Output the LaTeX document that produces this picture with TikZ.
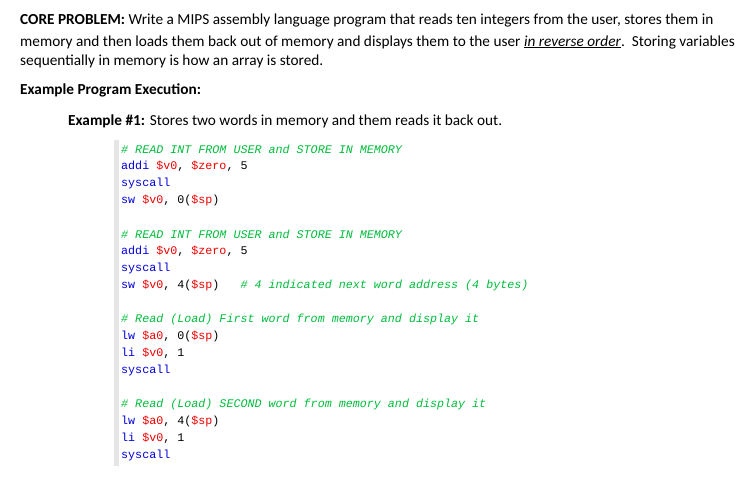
\documentclass[tikz,border=0pt]{standalone}
\usepackage{fontspec}
\setmainfont{Carlito}
\newfontfamily\codefont{Liberation Mono}
\definecolor{cgreen}{RGB}{0,190,60}
\definecolor{cblue}{RGB}{0,0,220}
\definecolor{cred}{RGB}{240,0,0}
\begin{document}
\begin{tikzpicture}[x=1pt,y=-1pt,
  txt/.style={anchor=west,inner sep=0pt,font=\fontsize{15.3}{18}\selectfont},
  code/.style={anchor=west,inner sep=0pt,font=\codefont\fontsize{11.7}{13}\selectfont},
  comm/.style={code,text=cgreen,font=\codefont\itshape\fontsize{11.7}{13}\selectfont}]
\useasboundingbox[fill=white] (0,0) rectangle (743,483);
\fill[gray!20] (114,140) rectangle (119,466);
\node[txt] (l1) at (20,20) {\textbf{CORE PROBLEM:} Write a MIPS assembly language program that reads ten integers from the user, stores them in};
\node[txt] (l2) at (20,42) {memory and then loads them back out of memory and displays them to the user \underline{\textit{in reverse order}}.\ \ Storing variables};
\node[txt] (l3) at (20,61) {sequentially in memory is how an array is stored.};
\node[txt] (l4) at (20,90) {\textbf{Example Program Execution:}};
\node[txt] (l5) at (68,121) {\textbf{Example \#1:} Stores two words in memory and them reads it back out.};
\newcommand{\B}[1]{\textcolor{cblue}{#1}}
\newcommand{\R}[1]{\textcolor{cred}{#1}}
\node[comm] (c1) at (121,149) {\# READ INT FROM USER and STORE IN MEMORY};
\node[code] (c2) at (121,166) {\B{addi} \R{\$v0}, \R{\$zero}, 5};
\node[code] (c3) at (121,183) {\B{syscall}};
\node[code] (c4) at (121,200) {\B{sw} \R{\$v0}, 0(\R{\$sp})};
\node[comm] (c5) at (121,234) {\# READ INT FROM USER and STORE IN MEMORY};
\node[code] (c6) at (121,251) {\B{addi} \R{\$v0}, \R{\$zero}, 5};
\node[code] (c7) at (121,268) {\B{syscall}};
\node[code] (c8) at (121,285) {\B{sw} \R{\$v0}, 4(\R{\$sp})\ \ \ \textcolor{cgreen}{\itshape \# 4 indicated next word address (4 bytes)}};
\node[comm] (c9) at (121,319) {\# Read (Load) First word from memory and display it};
\node[code] (c10) at (121,336) {\B{lw} \R{\$a0}, 0(\R{\$sp})};
\node[code] (c11) at (121,353) {\B{li} \R{\$v0}, 1};
\node[code] (c12) at (121,370) {\B{syscall}};
\node[comm] (c13) at (121,404) {\# Read (Load) SECOND word from memory and display it};
\node[code] (c14) at (121,421) {\B{lw} \R{\$a0}, 4(\R{\$sp})};
\node[code] (c15) at (121,438) {\B{li} \R{\$v0}, 1};
\node[code] (c16) at (121,455) {\B{syscall}};
\end{tikzpicture}
\end{document}
